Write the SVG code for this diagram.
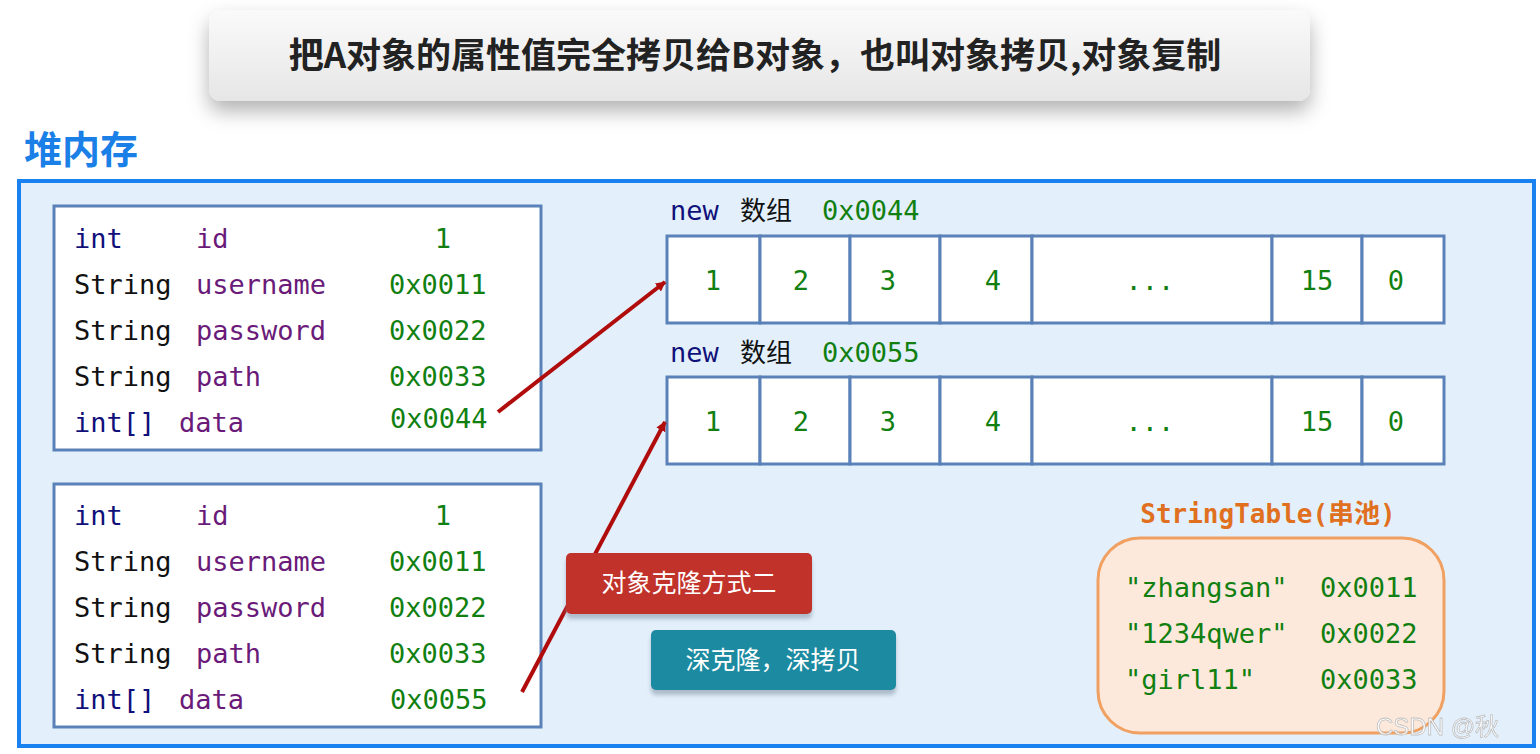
<svg xmlns="http://www.w3.org/2000/svg" width="1540" height="754" viewBox="0 0 1540 754">
<defs>
<linearGradient id="tg" x1="0" y1="0" x2="0" y2="1"><stop offset="0" stop-color="#fafafa"/><stop offset="1" stop-color="#e6e6e6"/></linearGradient>
<filter id="sh" x="-10%" y="-30%" width="120%" height="180%"><feDropShadow dx="0" dy="10" stdDeviation="10" flood-color="#000" flood-opacity="0.3"/></filter>
<filter id="bs" x="-10%" y="-20%" width="120%" height="150%"><feDropShadow dx="0" dy="5" stdDeviation="2" flood-color="#8898a8" flood-opacity="0.6"/></filter>
<marker id="ar" markerWidth="10" markerHeight="10" refX="9" refY="5" orient="auto" markerUnits="userSpaceOnUse"><path d="M0,0 L10,5 L0,10 z" fill="#b00c0c"/></marker>
</defs>
<style>
.m{font-family:"DejaVu Sans Mono","Liberation Mono",monospace;font-size:27px}
.k{fill:#10107a}.b{fill:#111}.p{fill:#6a1a78}.g{fill:#118011}
.box{fill:#fff;stroke:#5b82b8;stroke-width:3}
.cell{fill:#fff;stroke:#5b82b8;stroke-width:3}
.c{text-anchor:middle}
.lbl{font-family:"Noto Sans CJK SC","Noto Sans",sans-serif;font-size:26px}
.btn{font-family:"Noto Sans CJK SC",sans-serif;font-size:25px;fill:#fff;text-anchor:middle}
.arr{stroke:#b00c0c;stroke-width:4;fill:none;marker-end:url(#ar)}
</style>
<rect width="1540" height="754" fill="#fff"/>
<g id="title"><rect x="209" y="10" width="1101" height="91" rx="12" fill="url(#tg)" filter="url(#sh)"/>
<text x="755" y="68" text-anchor="middle" font-family="Noto Sans CJK SC,sans-serif" font-weight="bold" font-size="35" fill="#222">把A对象的属性值完全拷贝给B对象，也叫对象拷贝,对象复制</text></g>
<text x="24" y="163" font-family="Noto Sans CJK SC,sans-serif" font-weight="bold" font-size="38" fill="#1a7fe6">堆内存</text>
<g id="heap"><rect x="19" y="181" width="1515" height="565" fill="#e3f0fc" stroke="#1a82f0" stroke-width="4"/></g>
<g id="objA" class="m"><rect class="box" x="54" y="206" width="487" height="244"/>
<text x="74" y="248" class="k">int</text><text x="196" y="248" class="p">id</text><text x="443" y="248" class="g c">1</text>
<text x="74" y="294" class="b">String</text><text x="196" y="294" class="p">username</text><text x="389" y="294" class="g">0x0011</text>
<text x="74" y="340" class="b">String</text><text x="196" y="340" class="p">password</text><text x="389" y="340" class="g">0x0022</text>
<text x="74" y="386" class="b">String</text><text x="196" y="386" class="p">path</text><text x="389" y="386" class="g">0x0033</text>
<text x="74" y="432" class="k">int[]</text><text x="179" y="432" class="p">data</text><text x="390" y="428" class="g">0x0044</text></g>
<g id="objB" class="m"><rect class="box" x="54" y="484" width="487" height="243"/>
<text x="74" y="525" class="k">int</text><text x="196" y="525" class="p">id</text><text x="443" y="525" class="g c">1</text>
<text x="74" y="571" class="b">String</text><text x="196" y="571" class="p">username</text><text x="389" y="571" class="g">0x0011</text>
<text x="74" y="617" class="b">String</text><text x="196" y="617" class="p">password</text><text x="389" y="617" class="g">0x0022</text>
<text x="74" y="663" class="b">String</text><text x="196" y="663" class="p">path</text><text x="389" y="663" class="g">0x0033</text>
<text x="74" y="709" class="k">int[]</text><text x="179" y="709" class="p">data</text><text x="390" y="709" class="g">0x0055</text></g>
<g id="arr1" class="m">
<text x="670" y="220" class="k">new</text><text x="740" y="220" class="lbl b">数组</text><text x="822" y="220" class="g">0x0044</text>
<rect class="cell" x="667" y="236" width="93" height="87"/><rect class="cell" x="760" y="236" width="90" height="87"/><rect class="cell" x="850" y="236" width="90" height="87"/><rect class="cell" x="940" y="236" width="92" height="87"/><rect class="cell" x="1032" y="236" width="240" height="87"/><rect class="cell" x="1272" y="236" width="90" height="87"/><rect class="cell" x="1362" y="236" width="82" height="87"/>
<text y="290" class="g c"><tspan x="713">1</tspan><tspan x="801">2</tspan><tspan x="888">3</tspan><tspan x="993">4</tspan><tspan x="1150">...</tspan><tspan x="1317">15</tspan><tspan x="1396">0</tspan></text></g>
<g id="arr2" class="m">
<text x="670" y="362" class="k">new</text><text x="740" y="362" class="lbl b">数组</text><text x="822" y="362" class="g">0x0055</text>
<rect class="cell" x="667" y="377" width="93" height="87"/><rect class="cell" x="760" y="377" width="90" height="87"/><rect class="cell" x="850" y="377" width="90" height="87"/><rect class="cell" x="940" y="377" width="92" height="87"/><rect class="cell" x="1032" y="377" width="240" height="87"/><rect class="cell" x="1272" y="377" width="90" height="87"/><rect class="cell" x="1362" y="377" width="82" height="87"/>
<text y="431" class="g c"><tspan x="713">1</tspan><tspan x="801">2</tspan><tspan x="888">3</tspan><tspan x="993">4</tspan><tspan x="1150">...</tspan><tspan x="1317">15</tspan><tspan x="1396">0</tspan></text></g>
<g id="connectors"><line class="arr" x1="498" y1="412" x2="665" y2="282"/><line class="arr" x1="522" y1="692" x2="665" y2="422"/></g>
<g id="btn1"><rect x="566" y="553" width="246" height="61" rx="5" fill="#c0302a" filter="url(#bs)"/><text x="689" y="592" class="btn">对象克隆方式二</text></g>
<g id="btn2"><rect x="651" y="630" width="245" height="60" rx="5" fill="#1b8aa0" filter="url(#bs)"/><text x="773" y="669" class="btn">深克隆，深拷贝</text></g>
<g id="pool">
<text x="1268" y="523" text-anchor="middle" font-family="DejaVu Sans Mono,Noto Sans CJK SC,monospace" font-weight="bold" font-size="26" fill="#e07020">StringTable(串池)</text>
<rect x="1098" y="538" width="346" height="195" rx="42" fill="#fde9dc" stroke="#f0a060" stroke-width="3"/>
<g class="m g"><text x="1125" y="597">"zhangsan"</text><text x="1320" y="597">0x0011</text>
<text x="1125" y="643">"1234qwer"</text><text x="1320" y="643">0x0022</text>
<text x="1125" y="689">"girl11"</text><text x="1320" y="689">0x0033</text></g></g>
<text x="1376" y="735" font-family="Liberation Sans,Noto Sans CJK SC,sans-serif" font-size="24" fill="#fff" stroke="#bbb" stroke-width="0.8" opacity="0.9">CSDN @秋</text>
</svg>
